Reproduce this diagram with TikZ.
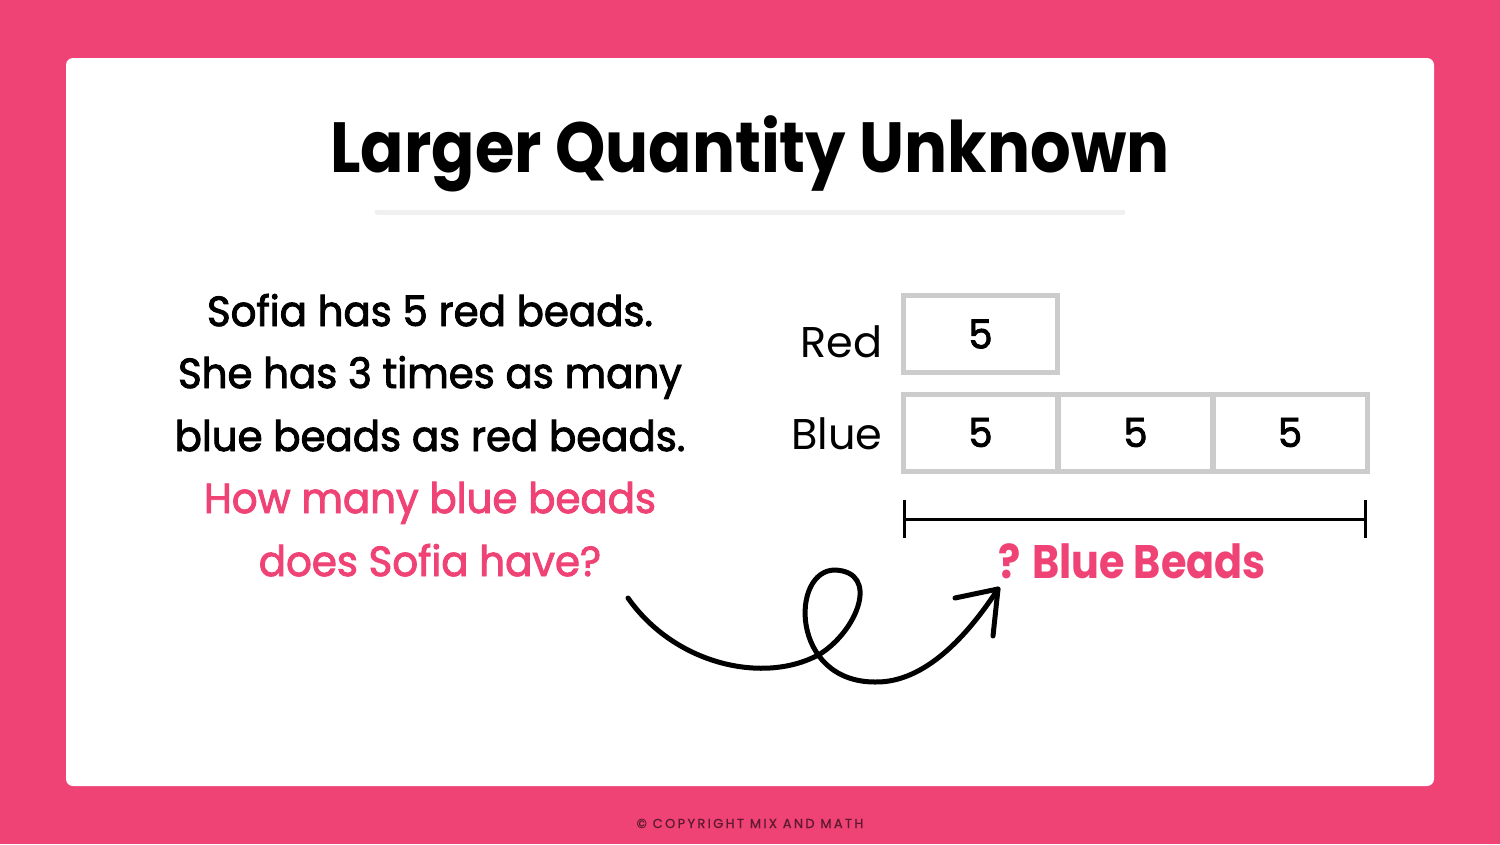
\documentclass[tikz,border=0pt]{standalone}
\usepackage{fontspec}
\usetikzlibrary{arrows.meta}
\setmainfont{Poppins}
\newfontfamily\medfont{Poppins}[FakeBold=2.2, FakeStretch=0.96]
\newfontfamily\titlefont{Poppins}[FakeStretch=0.9]
\newfontfamily\answerfont{Poppins}[FakeStretch=0.88]
\newfontfamily\spacedfont{Poppins}[LetterSpace=18, FakeBold=0.8]
\definecolor{pinkbg}{HTML}{EF4275}
\definecolor{boxgray}{HTML}{CCCCCC}
\definecolor{rulegray}{HTML}{F0F0F0}
\definecolor{copycol}{HTML}{5E1A30}
\tikzset{
  titletext/.style={anchor=base, font=\fontsize{71}{71}\selectfont\titlefont\bfseries},
  bodytext/.style={anchor=base, font=\fontsize{42}{42}\selectfont\medfont},
  asktext/.style={bodytext, text=pinkbg},
  labeltext/.style={anchor=base east, font=\fontsize{43}{43}\selectfont},
  cell/.style={draw=boxgray, line width=5, fill=white, minimum width=154, minimum height=77, inner sep=0, font=\fontsize{40}{40}\selectfont\medfont},
  answertext/.style={anchor=base, text=pinkbg, font=\fontsize{47}{47}\selectfont\answerfont\bfseries},
  swirl/.style={line width=5, line cap=round, line join=round},
}
\begin{document}
\begin{tikzpicture}[x=1pt,y=-1pt]
\fill[pinkbg] (0,0) rectangle (1500,844);
\useasboundingbox (0,0) rectangle (1500,844);
\fill[white, rounded corners=7] (66,58) rectangle (1434,786);

\node[titletext] (title) at (750,172) {Larger Quantity Unknown};
\draw[rulegray, line width=5, line cap=round] (377,212) -- (1123,212);

\node[bodytext] (l1) at (430,326) {Sofia has 5 red beads.};
\node[bodytext] (l2) at (430,388) {She has 3 times as many};
\node[bodytext] (l3) at (430,451) {blue beads as red beads.};
\node[asktext] (l4) at (430,513) {How many blue beads};
\node[asktext] (l5) at (430,576) {does Sofia have?};

\node[labeltext] (red) at (886,357) {Red};
\node[labeltext] (blue) at (886,449) {Blue};

\node[cell] (r1) at (980.5,334) {5};
\node[cell] (b1) at (980.5,432.5) {5};
\node[cell] (b2) at (1135.5,432.5) {5};
\node[cell] (b3) at (1290,432.5) {5};

\coordinate (bl) at (903,519);
\coordinate (br) at (1367,519);
\draw[line width=3, {Bar[width=38pt, line width=3pt]}-{Bar[width=38pt, line width=3pt]}] (bl) -- (br);

\node[answertext] (ans) at (1132,578) {? Blue Beads};

\coordinate (s0) at (628,598);
\coordinate (s1) at (820,654);
\coordinate (s2) at (835,570);
\coordinate (s3) at (875,682);
\coordinate (tip) at (998,589);
\coordinate (barbA) at (955,598);
\coordinate (barbB) at (993,636);
\draw[swirl] (s0) .. controls (675,665) and (765,685) .. (s1)
  .. controls (858,630) and (880,572) .. (s2)
  .. controls (790,570) and (790,682) .. (s3)
  .. controls (925,683) and (968,635) .. (tip);
\draw[swirl] (barbA) -- (tip) -- (barbB);

\node[anchor=base, text=copycol, font=\fontsize{13}{13}\selectfont\spacedfont] (copy) at (750,828) {© COPYRIGHT MIX AND MATH};
\end{tikzpicture}
\end{document}
